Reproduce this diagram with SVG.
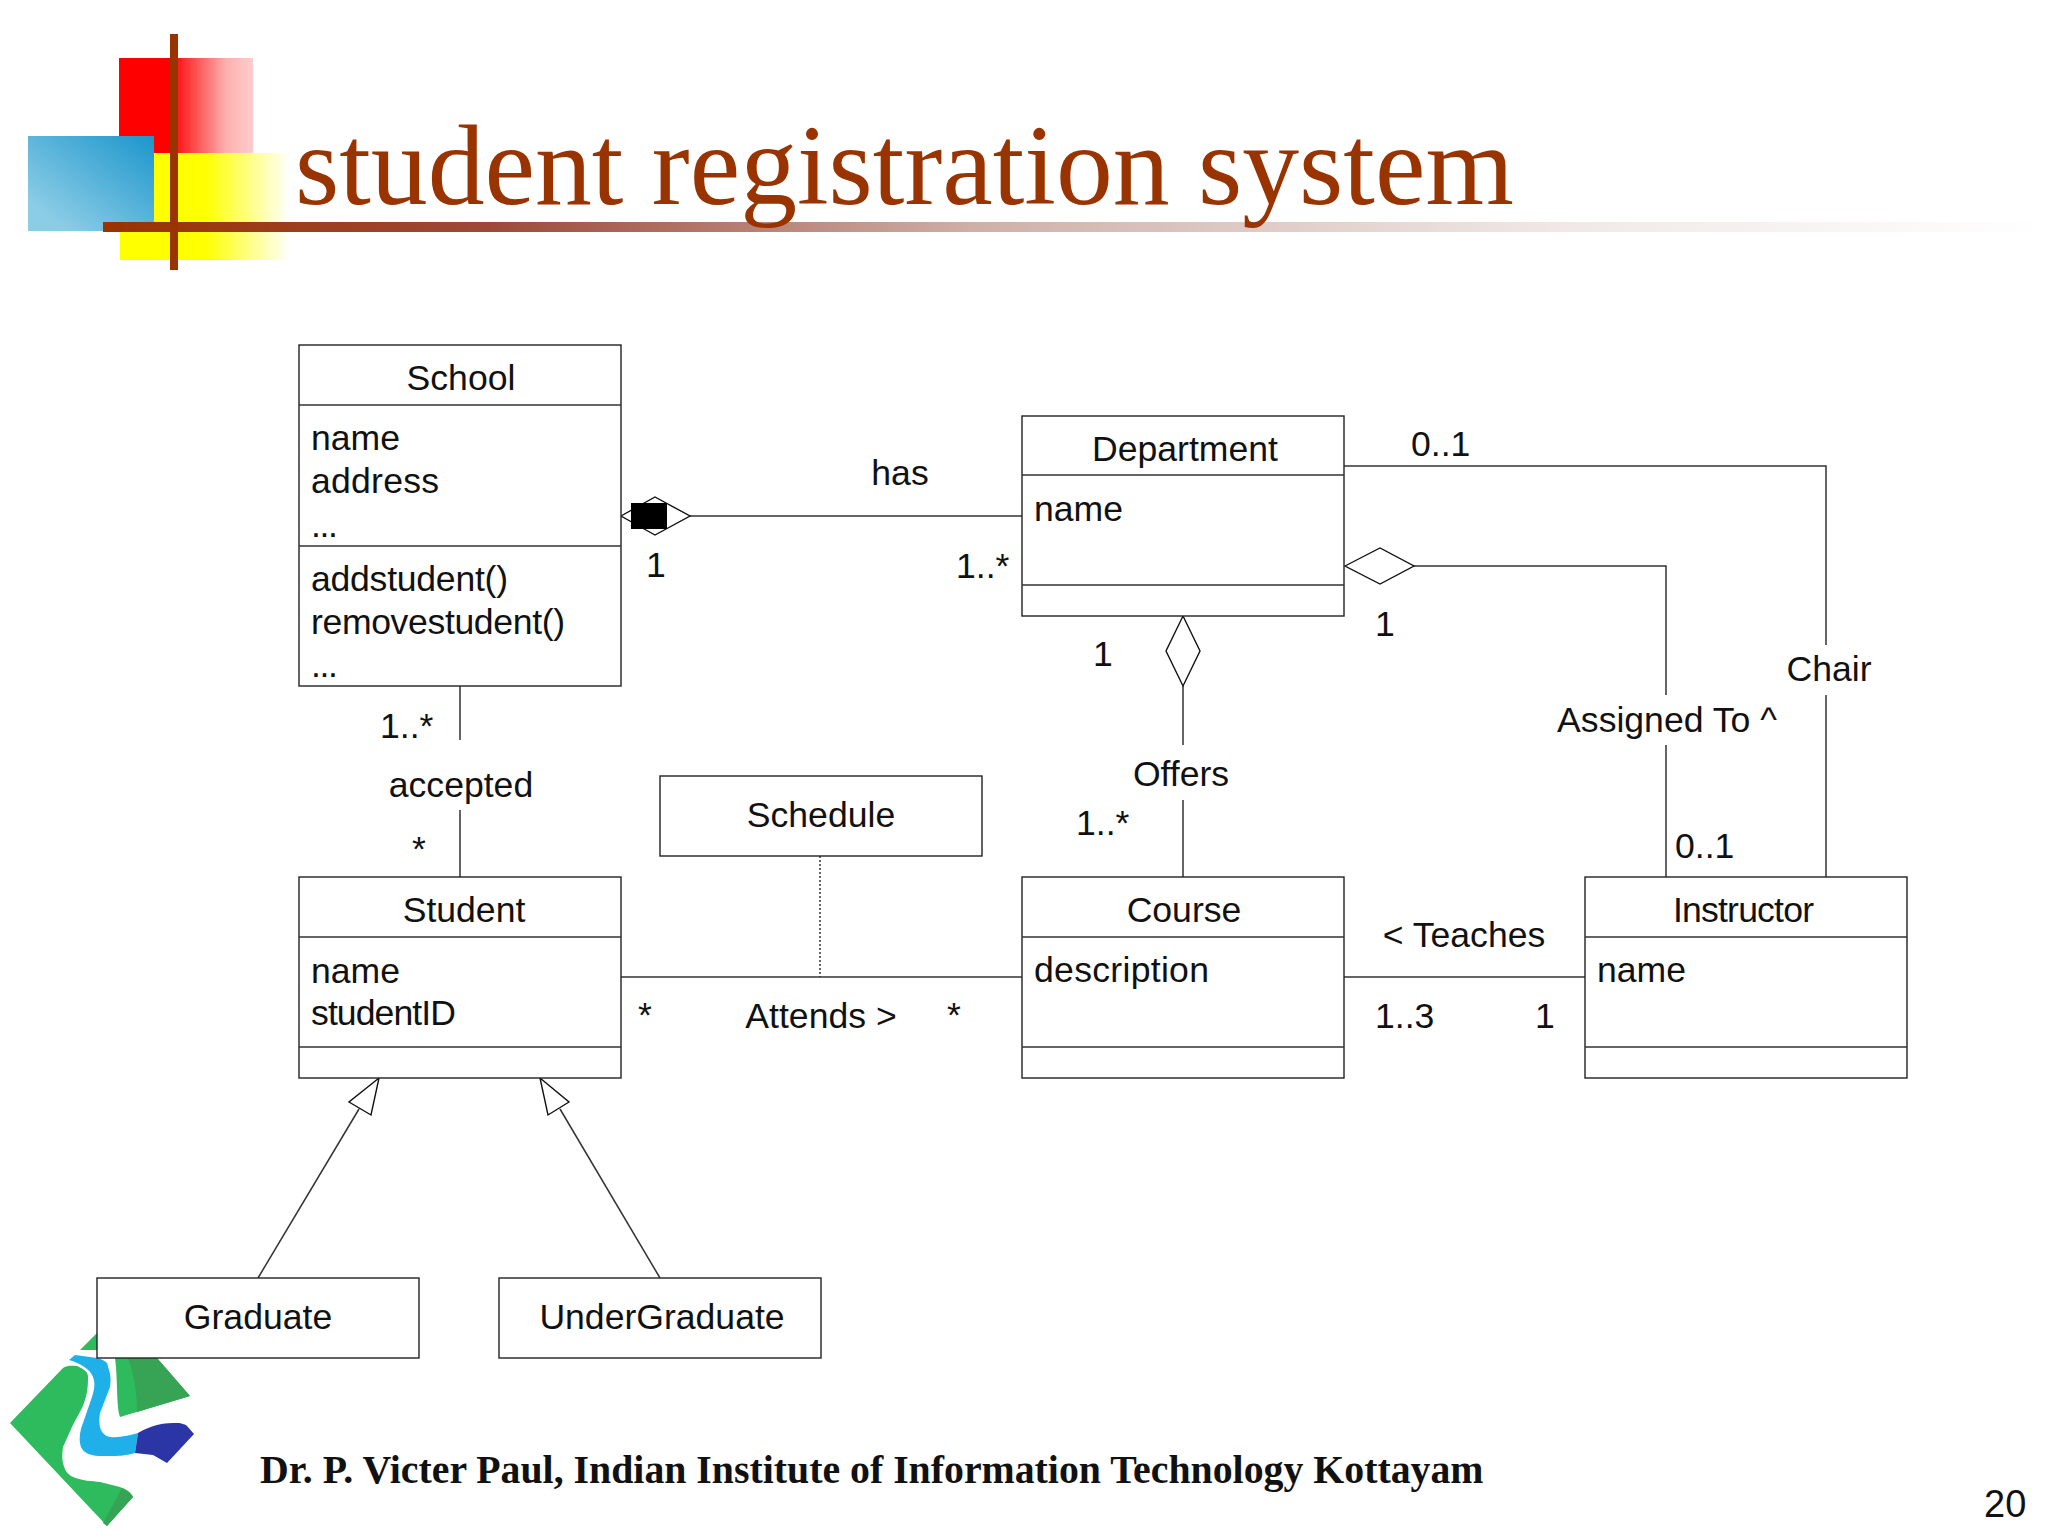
<svg xmlns="http://www.w3.org/2000/svg" width="2048" height="1536" viewBox="0 0 2048 1536">
<defs>
<linearGradient id="gr" x1="0" x2="1" y1="0" y2="0"><stop offset="0.38" stop-color="#ff0000"/><stop offset="0.8" stop-color="#ffb0b0"/><stop offset="1" stop-color="#ffcccc"/></linearGradient>
<linearGradient id="gy" x1="0" x2="1" y1="0" y2="0"><stop offset="0.5" stop-color="#ffff00"/><stop offset="1" stop-color="#ffffff"/></linearGradient>
<linearGradient id="gb" x1="0" x2="1" y1="1" y2="0"><stop offset="0.15" stop-color="#8ccde6"/><stop offset="1" stop-color="#1c96cc"/></linearGradient>
<linearGradient id="gl" x1="0" x2="1" y1="0" y2="0"><stop offset="0" stop-color="#993300"/><stop offset="0.2" stop-color="#9c4a38"/><stop offset="0.45" stop-color="#cfb0a8"/><stop offset="0.75" stop-color="#f0e8e6"/><stop offset="1" stop-color="#ffffff"/></linearGradient>
<style>
.b{fill:#fff;stroke:#222;stroke-width:1.4}
.c{fill:none;stroke:#333;stroke-width:1.5}
.d{fill:#fff;stroke:#111;stroke-width:1.4}
.t{font-family:"Liberation Sans",Arial,sans-serif;font-size:35.6px;fill:#111}
.m{text-anchor:middle}
</style>
</defs>
<rect width="2048" height="1536" fill="#fff"/>
<g id="decor">
<rect x="119" y="58" width="134" height="95" fill="url(#gr)"/>
<rect x="120" y="153" width="170" height="107" fill="url(#gy)"/>
<rect x="28" y="136" width="126" height="95" fill="url(#gb)"/>
<rect x="103" y="222" width="1945" height="10" fill="url(#gl)"/>
<rect x="170" y="34" width="8" height="236" fill="#993300"/>
</g>
<text x="295" y="204" font-family="'Liberation Serif','Times New Roman',serif" font-size="113.7" fill="#993300">student registration system</text>
<g id="logo">
<path d="M80 1350L97 1333V1350Z" fill="#2dbb5e"/>
<path d="M115 1358L157 1358L190 1396L120 1417C116 1405 118 1380 115 1358Z" fill="#2dbb5e"/>
<path d="M128 1358L157 1358L190 1396L137 1412C137 1392 134 1374 128 1358Z" fill="#36a355"/>
<path d="M69 1360L75 1355L97 1358C104 1360 108 1362 108 1367C111 1375 111 1380 110 1387L100 1413C98 1425 100 1435 110 1437C120 1438 130 1435 138 1433L135 1453C125 1456 115 1456 113 1456C100 1456 82 1458 80 1443C79 1435 81 1428 83 1423L92 1397C95 1388 95 1382 93 1377C91 1370 80 1363 69 1360Z" fill="#1fb0ea"/>
<path d="M138 1433C145 1429 150 1427 157 1425C165 1423 172 1423 177 1423C182 1423 186 1425 187 1426L194 1434L167 1463L153 1455L135 1453Z" fill="#2b35a5"/>
<path d="M10 1423L63 1368C68 1365 72 1366 77 1366C86 1370 88 1373 88 1377C88 1388 87 1393 85 1400C82 1410 76 1418 72 1427L63 1447C62 1455 62 1459 63 1463C65 1472 69 1475 73 1477C82 1481 92 1481 100 1482L120 1487C125 1489 130 1492 133 1497L107 1526Z" fill="#2dbb5e"/>
<path d="M122 1488C128 1490 131 1493 133 1497L107 1526L103 1523Z" fill="#36a355"/>
</g>
<g id="connectors">
<path class="c" d="M690 516H1022"/>
<path class="c" d="M1344 466H1826V877"/>
<path class="c" d="M1414 566H1666V877"/>
<path class="c" d="M1183 686V877"/>
<path class="c" d="M460 686V877"/>
<path class="c" d="M620 977H1022"/>
<path class="c" d="M1344 977H1585"/>
<path class="c" stroke-dasharray="2 2" d="M820 856V977"/>
<path class="c" d="M258 1278L359 1109"/>
<path class="c" d="M660 1278L560 1109"/>
<path class="d" d="M621 516L655 497L690 516L655 535Z"/>
<rect x="631" y="503" width="36" height="26" fill="#000"/>
<path class="d" d="M1345 566L1380 548L1414 566L1380 584Z"/>
<path class="d" d="M1183 616L1200 651L1183 686L1166 651Z"/>
<path class="d" d="M379 1078L349 1102L371 1115Z"/>
<path class="d" d="M540 1078L569 1102L548 1115Z"/>
<rect x="380" y="740" width="160" height="70" fill="#fff"/>
<rect x="1120" y="745" width="130" height="55" fill="#fff"/>
<rect x="1540" y="695" width="250" height="50" fill="#fff"/>
<rect x="1780" y="645" width="100" height="50" fill="#fff"/>
</g>
<g id="school"><rect class="b" x="299" y="345" width="322" height="341"/><path class="c" d="M299 405H621M299 546H621"/>
<text class="t m" x="461" y="390">School</text>
<text class="t" x="311" y="450">name</text><text class="t" x="311" y="493" textLength="128">address</text><text class="t" x="311" y="537" textLength="27">...</text>
<text class="t" x="311" y="591" textLength="197">addstudent()</text><text class="t" x="311" y="634" textLength="254">removestudent()</text><text class="t" x="311" y="677" textLength="27">...</text></g>
<g id="department"><rect class="b" x="1022" y="416" width="322" height="200"/><path class="c" d="M1022 475H1344M1022 585H1344"/>
<text class="t m" x="1185" y="461">Department</text><text class="t" x="1034" y="521">name</text></g>
<g id="schedule"><rect class="b" x="660" y="776" width="322" height="80"/><text class="t m" x="821" y="827">Schedule</text></g>
<g id="student"><rect class="b" x="299" y="877" width="322" height="201"/><path class="c" d="M299 937H621M299 1047H621"/>
<text class="t m" x="464" y="922">Student</text><text class="t" x="311" y="983">name</text><text class="t" x="311" y="1025" textLength="145">studentID</text></g>
<g id="course"><rect class="b" x="1022" y="877" width="322" height="201"/><path class="c" d="M1022 937H1344M1022 1047H1344"/>
<text class="t m" x="1184" y="922">Course</text><text class="t" x="1034" y="982" textLength="175">description</text></g>
<g id="instructor"><rect class="b" x="1585" y="877" width="322" height="201"/><path class="c" d="M1585 937H1907M1585 1047H1907"/>
<text class="t" x="1673" y="922" textLength="141">Instructor</text><text class="t" x="1597" y="982">name</text></g>
<g id="graduate"><rect class="b" x="97" y="1278" width="322" height="80"/><text class="t m" x="258" y="1329">Graduate</text></g>
<g id="undergraduate"><rect class="b" x="499" y="1278" width="322" height="80"/><text class="t m" x="662" y="1329">UnderGraduate</text></g>
<g id="labels">
<text class="t m" x="900" y="485">has</text>
<text class="t" x="646" y="577">1</text>
<text class="t" x="956" y="578">1..*</text>
<text class="t" x="1411" y="456">0..1</text>
<text class="t" x="1375" y="636">1</text>
<text class="t" x="1093" y="666">1</text>
<text class="t" x="380" y="738">1..*</text>
<text class="t m" x="461" y="797">accepted</text>
<text class="t" x="412" y="861">*</text>
<text class="t m" x="1181" y="786">Offers</text>
<text class="t" x="1076" y="835">1..*</text>
<text class="t m" x="1667" y="732">Assigned To ^</text>
<text class="t m" x="1829" y="681">Chair</text>
<text class="t" x="1675" y="858">0..1</text>
<text class="t m" x="1464" y="947">&lt; Teaches</text>
<text class="t" x="638" y="1027">*</text>
<text class="t m" x="821" y="1028">Attends &gt;</text>
<text class="t" x="947" y="1027">*</text>
<text class="t" x="1375" y="1028">1..3</text>
<text class="t" x="1535" y="1028">1</text>
</g>
<text x="260" y="1483" font-family="'Liberation Serif','Times New Roman',serif" font-size="39.8" font-weight="bold" fill="#111">Dr. P. Victer Paul, Indian Institute of Information Technology Kottayam</text>
<text x="1984" y="1517" font-family="'Liberation Sans',Arial,sans-serif" font-size="38" fill="#111">20</text>
</svg>
